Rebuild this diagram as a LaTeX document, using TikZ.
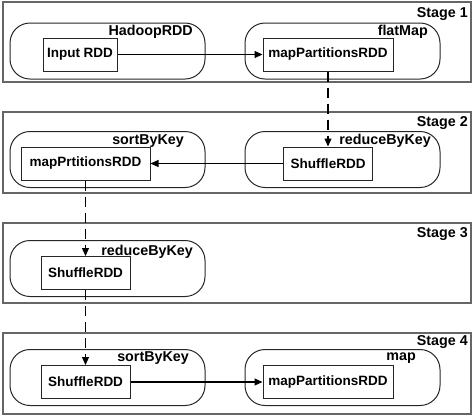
\documentclass[tikz,border=0pt]{standalone}
\usepackage{fontspec}
\setmainfont{Liberation Sans}
\usetikzlibrary{arrows.meta, positioning}

\begin{document}
\begin{tikzpicture}[x=1pt, y=-1pt, font=\bfseries\fontsize{13.5}{16}\selectfont,
    stagebox/.style = {draw=black!60, line width=1.5pt, minimum width=468pt, inner sep=0pt},
    group/.style = {draw=black!85, line width=1pt, rounded corners=20pt, minimum width=195pt, minimum height=56pt, inner sep=0pt},
    rdd/.style = {draw=black!85, line width=1pt, minimum height=33pt, inner sep=2pt},
    lbl/.style = {anchor=east, inner sep=0pt, font=\bfseries\fontsize{14.3}{17}\selectfont}]
    \useasboundingbox (0,0) rectangle (474,416);

    % stages
    \node (st1) [stagebox, minimum height=80pt] at (237,42) {};
    \node (st2) [stagebox, minimum height=81pt] at (237,152.5) {};
    \node (st3) [stagebox, minimum height=80pt] at (237,263) {};
    \node (st4) [stagebox, minimum height=81pt] at (237,373.5) {};
    \node (st1l) [lbl] at (468,14) {Stage 1};
    \node (st2l) [lbl] at (468,123) {Stage 2};
    \node (st3l) [lbl] at (468,234) {Stage 3};
    \node (st4l) [lbl] at (468,342) {Stage 4};

    % groups
    \node (hadoop) [group] at (107.5,51) {};
    \node (flat)   [group] at (342.5,51) {};
    \node (sort2)  [group] at (107.5,159.5) {};
    \node (red2)   [group] at (342.5,159.5) {};
    \node (red3)   [group] at (107.5,268.5) {};
    \node (sort4)  [group] at (107.5,377.5) {};
    \node (map4)   [group] at (342.5,377.5) {};
    \node [lbl] at (193,32) {HadoopRDD};
    \node [lbl] at (428,32) {flatMap};
    \node [lbl] at (184,141) {sortByKey};
    \node [lbl] at (431,141) {reduceByKey};
    \node [lbl] at (193,252) {reduceByKey};
    \node [lbl] at (189,358) {sortByKey};
    \node [lbl] at (416,358) {map};

    % rdds
    \node (in1)  [rdd, minimum width=74pt]  at (80,54.5)    {Input RDD};
    \node (mp1)  [rdd, minimum width=130pt] at (328,54.5)   {mapPartitionsRDD};
    \node (mp2)  [rdd, minimum width=129pt] at (85.5,163.5) {mapPrtitionsRDD};
    \node (sh2)  [rdd, minimum width=89pt]  at (328,163.5)  {ShuffleRDD};
    \node (sh3)  [rdd, minimum width=89pt]  at (85.5,273)   {ShuffleRDD};
    \node (sh4)  [rdd, minimum width=89pt]  at (85.5,382)   {ShuffleRDD};
    \node (mp4)  [rdd, minimum width=130pt] at (328,382)    {mapPartitionsRDD};

\path [-{Triangle[length=8pt,width=7pt]}, line width=1.1pt]
    (in1) edge (mp1)
    (sh2) edge (mp2)
    (sh4) edge (mp4);
\path [-{Triangle[length=8pt,width=7pt]}, line width=1.1pt, dash pattern=on 10pt off 6pt]
    (mp1) edge (sh2)
    (mp2) edge (sh3)
    (sh3) edge (sh4);

\end{tikzpicture}
\end{document}
